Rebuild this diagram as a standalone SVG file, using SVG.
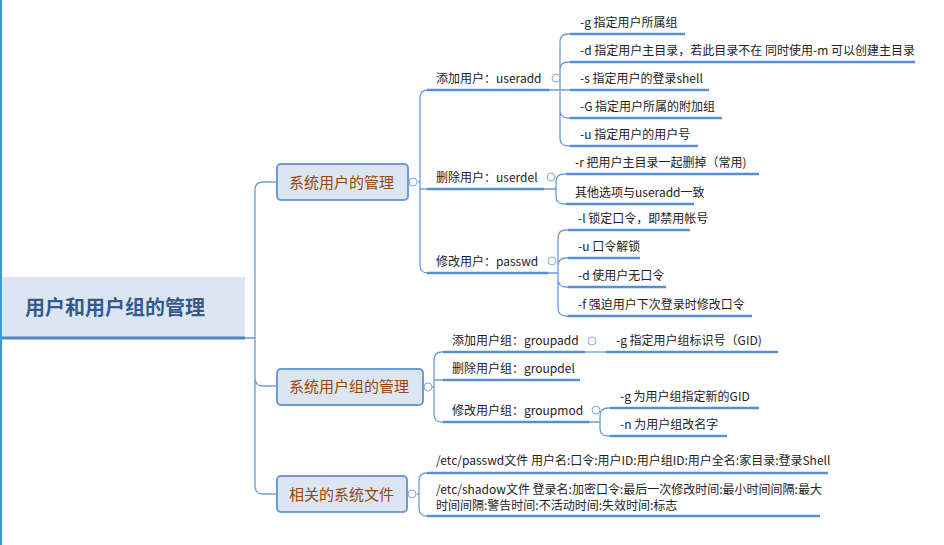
<svg xmlns="http://www.w3.org/2000/svg" width="944" height="545" viewBox="0 0 944 545">
<style>
text{font-family:"Noto Sans CJK SC","Liberation Sans",sans-serif;font-size:12px;fill:#222}
.c{fill:none;stroke:#6d9bd6;stroke-width:1.3}
.u{stroke:#5a8ed4;stroke-width:2.6}
.b{fill:#dce6f2;stroke:#6d9bd6;stroke-width:2}
.l1{font-size:15px;fill:#974806}
.o{fill:#fff;stroke:#8aa9d0;stroke-width:1}
</style>
<rect width="944" height="545" fill="#fff"/>
<rect x="0" y="0" width="2" height="545" fill="#3d9ad8"/>
<g id="connectors">
<path class="c" d="M245 338H255V190Q255 182 263 182H277M245 338H255V378Q255 386 263 386H277M255 378V486Q255 494 263 494H277"/>
<path class="c" d="M418 182H420V98Q420 90 428 90M420 182V189H428M420 189V265Q420 273 428 273"/>
<path class="c" d="M549 90H560V42Q560 34 568 34H570M560 90V70Q560 62 568 62H570M560 90H570M560 90V110Q560 118 568 118H570M560 90V138Q560 146 568 146H570"/>
<path class="c" d="M544 189H556V182Q556 174 564 174H566M556 189V196Q556 204 564 204H566"/>
<path class="c" d="M548 273H558V238Q558 230 566 230H568M558 273V266Q558 258 566 258H568M558 273V279Q558 287 566 287H568M558 273V308Q558 316 566 316H568"/>
<path class="c" d="M432 387H434V360Q434 352 442 352H443M434 387V380H443M434 387V414Q434 422 442 422H443"/>
<path class="c" d="M585 352H606"/>
<path class="c" d="M589 422H600V416Q600 408 608 408H610M600 422V428Q600 436 608 436H610"/>
<path class="c" d="M417 494H419V481Q419 473 427 473M419 494V508Q419 516 427 516"/>
</g>
<g id="root">
<rect x="2" y="277" width="243" height="61" fill="#dce6f2"/>
<line x1="2" y1="338" x2="245" y2="338" stroke="#4f86c6" stroke-width="3"/>
<text x="25" y="315" style="font-size:20px;font-weight:bold;fill:#355b8c">用户和用户组的管理</text>
</g>
<g id="n1">
<rect class="b" x="277" y="164" width="131" height="36" rx="4"/>
<text class="l1" x="289" y="188">系统用户的管理</text>
<circle class="o" cx="413" cy="182" r="4"/>
</g>
<g id="n2">
<rect class="b" x="277" y="369" width="146" height="36" rx="4"/>
<text class="l1" x="289" y="392">系统用户组的管理</text>
<circle class="o" cx="428" cy="387" r="4"/>
</g>
<g id="n3">
<rect class="b" x="277" y="476" width="130" height="36" rx="4"/>
<text class="l1" x="289" y="500">相关的系统文件</text>
<circle class="o" cx="412" cy="494" r="4"/>
</g>
<g id="useradd">
<text x="436" y="83">添加用户：useradd</text><line class="u" x1="427" y1="90" x2="549" y2="90"/>
<circle class="o" cx="556" cy="78" r="4"/>
</g>
<g id="useradd-opts">
<text x="580" y="27">-g 指定用户所属组</text><line class="u" x1="570" y1="34" x2="685" y2="34"/>
<text x="580" y="55">-d 指定用户主目录，若此目录不在 同时使用-m 可以创建主目录</text><line class="u" x1="570" y1="62" x2="915" y2="62"/>
<text x="580" y="83">-s 指定用户的登录shell</text><line class="u" x1="570" y1="90" x2="709" y2="90"/>
<text x="580" y="111">-G 指定用户所属的附加组</text><line class="u" x1="570" y1="118" x2="722" y2="118"/>
<text x="580" y="139">-u 指定用户的用户号</text><line class="u" x1="570" y1="146" x2="698" y2="146"/>
</g>
<g id="userdel">
<text x="436" y="182">删除用户：userdel</text><line class="u" x1="427" y1="189" x2="544" y2="189"/>
<circle class="o" cx="551" cy="177" r="4"/>
<text x="575" y="167">-r 把用户主目录一起删掉（常用)</text><line class="u" x1="566" y1="174" x2="759" y2="174"/>
<text x="575" y="197">其他选项与useradd一致</text><line class="u" x1="566" y1="204" x2="694" y2="204"/>
</g>
<g id="passwd">
<text x="436" y="266">修改用户：passwd</text><line class="u" x1="427" y1="273" x2="548" y2="273"/>
<circle class="o" cx="552" cy="261" r="4"/>
<text x="578" y="223">-l 锁定口令，即禁用帐号</text><line class="u" x1="568" y1="230" x2="690" y2="230"/>
<text x="578" y="251">-u 口令解锁</text><line class="u" x1="568" y1="258" x2="640" y2="258"/>
<text x="578" y="280">-d 使用户无口令</text><line class="u" x1="568" y1="287" x2="666" y2="287"/>
<text x="578" y="309">-f 强迫用户下次登录时修改口令</text><line class="u" x1="568" y1="316" x2="752" y2="316"/>
</g>
<g id="groupadd">
<text x="452" y="345">添加用户组：groupadd</text><line class="u" x1="443" y1="352" x2="585" y2="352"/>
<circle class="o" cx="592" cy="341" r="4"/>
<text x="616" y="345">-g 指定用户组标识号（GID)</text><line class="u" x1="606" y1="352" x2="778" y2="352"/>
</g>
<g id="groupdel">
<text x="452" y="373">删除用户组：groupdel</text><line class="u" x1="443" y1="380" x2="580" y2="380"/>
</g>
<g id="groupmod">
<text x="452" y="415">修改用户组：groupmod</text><line class="u" x1="443" y1="422" x2="589" y2="422"/>
<circle class="o" cx="596" cy="410" r="4"/>
<text x="620" y="401">-g 为用户组指定新的GID</text><line class="u" x1="610" y1="408" x2="759" y2="408"/>
<text x="620" y="429">-n 为用户组改名字</text><line class="u" x1="610" y1="436" x2="727" y2="436"/>
</g>
<g id="files">
<text x="436" y="465">/etc/passwd文件  用户名:口令:用户ID:用户组ID:用户全名:家目录:登录Shell</text><line class="u" x1="427" y1="473" x2="828" y2="473"/>
<text x="436" y="494">/etc/shadow文件  登录名:加密口令:最后一次修改时间:最小时间间隔:最大</text>
<text x="436" y="510">时间间隔:警告时间:不活动时间:失效时间:标志</text><line class="u" x1="427" y1="516" x2="820" y2="516"/>
</g>
</svg>
